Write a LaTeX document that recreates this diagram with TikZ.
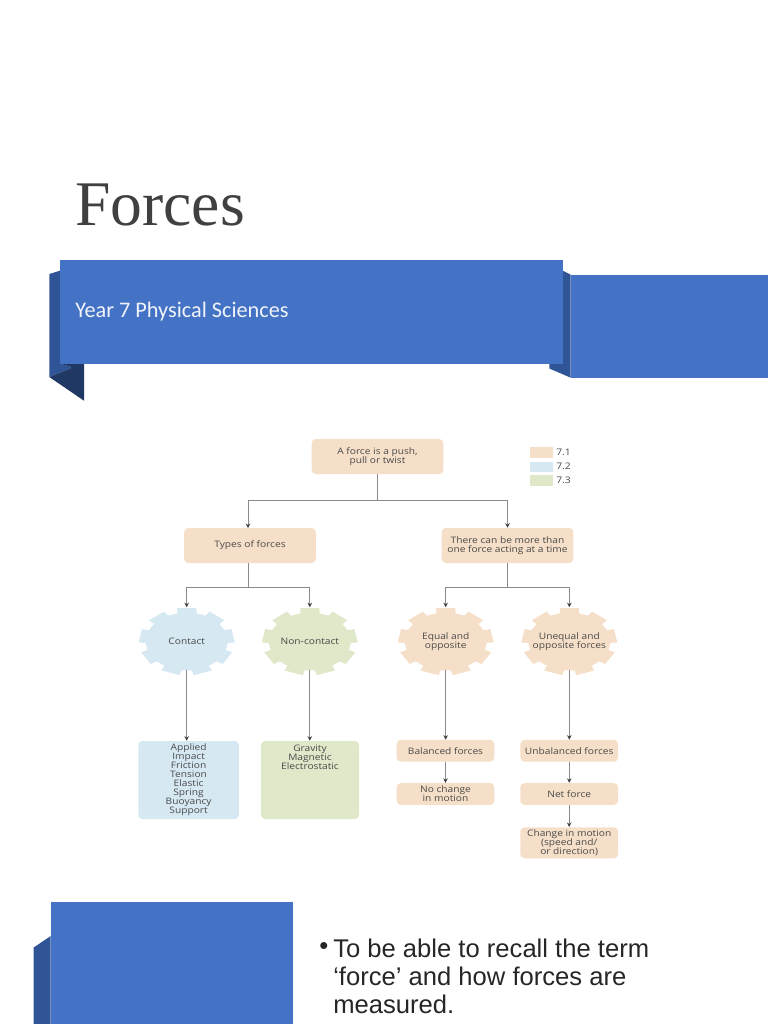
\documentclass[tikz,border=0pt]{standalone}
\usepackage{fontspec}
\setmainfont{Open Sans}
\newfontfamily\chartfont[FakeStretch=1.14]{Open Sans}
\newfontfamily\titlefont{Liberation Serif}
\newfontfamily\bandfont{Carlito}
\newfontfamily\bodyfont{Liberation Sans}
\usetikzlibrary{arrows.meta}
\definecolor{bandblue}{HTML}{4472C4}
\definecolor{foldblue}{HTML}{2F5597}
\definecolor{tailblue}{HTML}{203864}
\definecolor{peach}{HTML}{F6DFC8}
\definecolor{skyb}{HTML}{D6E9F3}
\definecolor{sage}{HTML}{DFE8C9}
\definecolor{inktext}{HTML}{4A4A4A}
\definecolor{linkgray}{HTML}{8A8A8A}
\tikzset{
  chartbox/.style={rounded corners=3pt, inner sep=0pt, align=center, text=inktext,
    font=\chartfont\fontsize{6.7}{6.75}\selectfont},
  gearlabel/.style={inner sep=0pt, align=center, text=inktext, minimum width=72pt, minimum height=51pt,
    font=\chartfont\fontsize{6.7}{6.75}\selectfont},
  link/.style={draw=linkgray, line width=0.7pt},
  arr/.style={link, -{Stealth[length=3.4pt,width=3.4pt,color=black!75]}},
  swatchbox/.style={inner sep=0pt, minimum width=17pt, minimum height=7.8pt},
  keylabel/.style={inner sep=0pt, anchor=west, text=inktext, font=\chartfont\fontsize{6.8}{7}\selectfont}
}
\newcommand{\gearat}[3]{%
  \fill[#3] ({#1+41*cos(76)},{#2-29*sin(76)})
    \foreach \i in {0,...,8}{
      -- ({#1+48*cos(90+40*\i-11.5)},{#2-34*sin(90+40*\i-11.5)})
      -- ({#1+48*cos(90+40*\i+11.5)},{#2-34*sin(90+40*\i+11.5)})
      -- ({#1+41*cos(90+40*\i+13)},{#2-29*sin(90+40*\i+13)})
      -- ({#1+41*cos(90+40*\i+27)},{#2-29*sin(90+40*\i+27)})
    } -- cycle;}
\begin{document}
\begin{tikzpicture}[x=0.75pt,y=-0.75pt]
\useasboundingbox (0,0) rectangle (768,1024);
% banner
\fill[foldblue] (49.3,274) -- (60,270.7) -- (60,363.5) -- (72.7,367.5) -- (49.3,377) -- cycle;
\fill[tailblue] (49.3,377) -- (72.7,367.5) -- (60,363.5) -- (84,363.5) -- (84,400.7) -- cycle;
\fill[foldblue] (562.7,270.7) -- (570.7,274.7) -- (570.7,377.7) -- (549.3,368.5) -- (549.3,363.5) -- (562.7,363.5) -- cycle;
\fill[bandblue] (570.7,274.7) rectangle (768,377.7);
\fill[bandblue] (60,260) rectangle (562.7,363.5);
% lower band
\fill[foldblue] (33.7,947.5) -- (50.7,936) -- (50.7,1024) -- (33.7,1024) -- cycle;
\fill[bandblue] (50.7,901.7) rectangle (292.7,1024);
% texts
\node[inner sep=0pt, anchor=base west, text=black!75, font=\titlefont\fontsize{47.7}{50}\selectfont] (title) at (75,225) {Forces};
\node[inner sep=0pt, anchor=west, text=white!92!bandblue, font=\bandfont\fontsize{16.7}{18}\selectfont] (year) at (75,311.5) {Year 7 Physical Sciences};
\node[inner sep=0pt, anchor=base west, text=black!85, font=\bodyfont\fontsize{19.2}{21}\selectfont] (bullet) at (319,954) {•};
\node[inner sep=0pt, anchor=north west, align=left, text=black!85, font=\bodyfont\fontsize{19.2}{21}\selectfont] (aim) at (333,939) {To be able to recall the term\\‘force’ and how forces are\\measured.};
% legend
\node[swatchbox, fill=peach] (s1) at (541.4,452.5) {};
\node[swatchbox, fill=skyb] (s2) at (541.4,466.8) {};
\node[swatchbox, fill=sage] (s3) at (541.4,480.6) {};
\node[keylabel] (k1) at (556,452.3) {7.1};
\node[keylabel] (k2) at (556,466.5) {7.2};
\node[keylabel] (k3) at (556,480.3) {7.3};
% gears
\gearat{186.7}{641.5}{skyb}
\gearat{309.8}{641.5}{sage}
\gearat{445.7}{641.5}{peach}
\gearat{569.3}{641.5}{peach}
\node[gearlabel] (gc) at (186.7,641.5) {Contact};
\node[gearlabel] (gn) at (309.8,641.5) {Non-contact};
\node[gearlabel] (ge) at (445.7,641.5) {Equal and\\opposite};
\node[gearlabel] (gu) at (569.3,641.5) {Unequal and\\opposite forces};
% boxes
\node[chartbox, fill=peach, minimum width=98.7pt, minimum height=26.25pt] (top) at (377.5,456.5) {A force is a push,\\pull or twist};
\node[chartbox, fill=peach, minimum width=98.7pt, minimum height=26.25pt] (types) at (250,545.5) {Types of forces};
\node[chartbox, fill=peach, minimum width=98.7pt, minimum height=26.25pt] (more) at (507.5,545.5) {There can be more than\\one force acting at a time};
\node[chartbox, fill=skyb, minimum width=75.5pt, minimum height=58.5pt] (clist) at (188.6,780) {Applied\\Impact\\Friction\\Tension\\Elastic\\Spring\\Buoyancy\\Support};
\node[chartbox, fill=sage, minimum width=73.5pt, minimum height=58.5pt] (nlist) at (310,780) {Gravity\\Magnetic\\Electrostatic\\ \\ \\ \\ \\ };
\node[chartbox, fill=peach, minimum width=73.2pt, minimum height=16.3pt] (bal) at (445.5,750.8) {Balanced forces};
\node[chartbox, fill=peach, minimum width=73.2pt, minimum height=16.3pt] (nochange) at (445.5,794) {No change\\in motion};
\node[chartbox, fill=peach, minimum width=73.2pt, minimum height=16.3pt] (unbal) at (569.2,750.8) {Unbalanced forces};
\node[chartbox, fill=peach, minimum width=73.2pt, minimum height=16.3pt] (net) at (569.2,794) {Net force};
\node[chartbox, fill=peach, minimum width=73.2pt, minimum height=23.25pt] (chg) at (569.2,842.8) {Change in motion\\(speed and/\\or direction)};
% connectors
\coordinate (j1) at (377.5,500);
\coordinate (j2) at (248,587);
\coordinate (j3) at (507.5,587);
\coordinate (tin) at (248,528);
\draw[link] (top.south) -- (j1);
\draw[arr] (j1) -| (tin);
\draw[arr] (j1) -| (more.north);
\draw[link] (tin |- types.south) -- (j2);
\draw[arr] (j2) -| (gc.north);
\draw[arr] (j2) -| (gn.north);
\draw[link] (more.south) -- (j3);
\draw[arr] (j3) -| (ge.north);
\draw[arr] (j3) -| (gu.north);
\draw[arr] ([yshift=4.5pt]gc.south) -- (gc.south |- clist.north);
\draw[arr] ([yshift=4.5pt]gn.south) -- (gn.south |- nlist.north);
\draw[arr] ([yshift=4.5pt]ge.south) -- (ge.south |- bal.north);
\draw[arr] ([yshift=4.5pt]gu.south) -- (gu.south |- unbal.north);
\draw[arr] (bal.south) -- (nochange.north);
\draw[arr] (unbal.south) -- (net.north);
\draw[arr] (net.south) -- (chg.north);
\end{tikzpicture}
\end{document}
